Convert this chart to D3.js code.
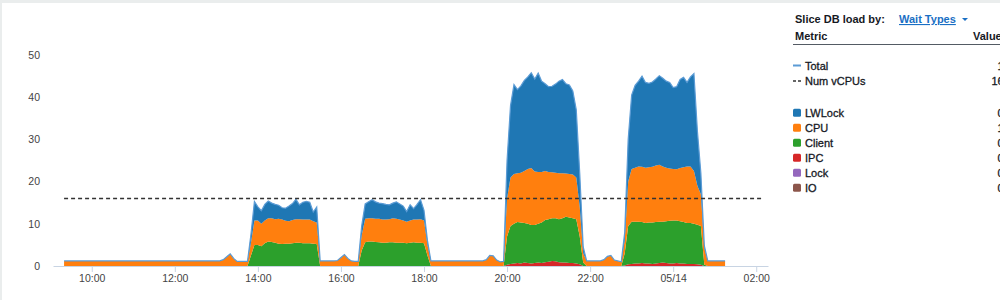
<!DOCTYPE html>
<html>
<head>
<meta charset="utf-8">
<script src="https://cdn.jsdelivr.net/npm/d3@7"></script>
<style>
  body { margin: 0; background: #fff; }
  svg { display: block; font-family: "Liberation Sans", Arial, sans-serif; }
  .item-text { stroke: #16191f; stroke-width: 0.3px; }
</style>
</head>
<body>
<div id="chart-area"></div>
<script>
// SAMPLING (one point every 5 minutes, 13 May 09:20 -> 14 May 01:15)
const seriesStart = new Date(2020, 4, 13, 9, 20)
const stepMinutes = 5

// DB LOAD BY WAIT TYPE (average active sessions), one row per hour
const lwlock = [
  0, 0, 0, 0, 0, 0, 0, 0,
  0, 0, 0, 0, 0, 0, 0, 0, 0, 0, 0, 0,
  0, 0, 0, 0, 0, 0, 0, 0, 0, 0, 0, 0,
  0, 0, 0, 0, 0, 0, 0, 0, 0, 0, 0, 0,
  0, 0, 0, 0, 0, 0, 0, 0, 0, 0, 2.0, 4.5,
  3.2, 3.1, 3.8, 4.1, 3.6, 3.5, 3.2, 2.8, 3.0, 3.6, 3.9, 4.7,
  3.4, 4.1, 4.3, 4.1, 2.2, 3.7, 0, 0, 0, 0, 0, 0,
  0, 0, 0, 0, 0, 0, 2.2, 3.5, 3.9, 4.4, 4.0, 3.7,
  3.8, 3.6, 3.4, 3.6, 4.0, 3.7, 3.4, 2.4, 3.7, 2.6, 3.6, 4.6,
  2.4, 1.0, 0, 0, 0, 0, 0, 0, 0, 0, 0, 0,
  0, 0, 0, 0, 0, 0, 0, 0, 0, 0, 0, 0,
  9.0, 17.0, 21.2, 19.8, 20.6, 21.5, 21.8, 22.6, 21.9, 23.4, 21.5, 20.7,
  20.2, 20.4, 21.0, 21.8, 22.2, 21.3, 21.1, 19.8, 16.0, 8.0, 1.5, 0,
  0, 0, 0, 0, 0, 0, 0, 0, 0, 0, 2.0, 10.0,
  17.5, 19.5, 20.2, 21.5, 20.2, 19.9, 20.1, 20.5, 21.1, 20.9, 20.5, 20.4,
  19.3, 19.6, 21.0, 21.3, 19.9, 21.2, 23.1, 13.0, 5.0, 0.6, 0, 0,
  0, 0, 0, 0
]

const cpu = [
  1.2, 1.2, 1.2, 1.2, 1.2, 1.2, 1.2, 1.2,
  1.2, 1.2, 1.2, 1.2, 1.2, 1.2, 1.2, 1.2, 1.2, 1.2, 1.2, 1.2,
  1.2, 1.2, 1.2, 1.2, 1.2, 1.2, 1.2, 1.2, 1.2, 1.2, 1.2, 1.2,
  1.2, 1.2, 1.2, 1.2, 1.2, 1.2, 1.2, 1.2, 1.2, 1.2, 1.2, 1.2,
  1.2, 1.2, 1.5, 2.2, 2.9, 1.8, 1.1, 1.1, 1.1, 1.1, 3.0, 5.8,
  5.8, 5.3, 5.4, 5.5, 5.6, 5.6, 5.9, 5.8, 5.4, 5.3, 5.5, 5.6,
  5.6, 5.6, 5.6, 5.6, 5.3, 5.1, 1.2, 1.2, 1.2, 1.2, 1.2, 1.3,
  2.0, 2.7, 1.8, 1.2, 1.1, 1.1, 3.6, 5.6, 5.5, 5.5, 5.5, 5.6,
  5.5, 5.5, 5.5, 5.7, 5.7, 5.5, 5.3, 5.1, 5.3, 5.4, 5.5, 5.6,
  5.4, 2.5, 1.2, 1.2, 1.2, 1.2, 1.2, 1.2, 1.2, 1.2, 1.2, 1.2,
  1.2, 1.2, 1.2, 1.2, 1.2, 1.2, 1.5, 2.5, 2.4, 1.4, 1.0, 1.1,
  9.0, 11.5, 11.8, 11.6, 11.8, 12.3, 13.0, 13.5, 12.7, 12.3, 12.0, 11.6,
  11.2, 10.9, 10.8, 10.9, 10.7, 10.2, 10.3, 10.4, 9.9, 7.0, 2.2, 1.2,
  1.2, 1.2, 1.2, 1.2, 1.5, 2.3, 2.5, 1.4, 1.2, 1.0, 3.0, 10.5,
  12.5, 12.8, 13.1, 13.1, 13.1, 13.1, 13.2, 13.4, 13.5, 13.1, 12.7, 12.4,
  12.2, 12.1, 12.6, 13.0, 13.4, 13.4, 12.5, 9.2, 7.5, 3.9, 1.2, 1.2,
  1.2, 1.2, 1.2, 1.2
]

const client = [
  0, 0, 0, 0, 0, 0, 0, 0,
  0, 0, 0, 0, 0, 0, 0, 0, 0, 0, 0, 0,
  0, 0, 0, 0, 0, 0, 0, 0, 0, 0, 0, 0,
  0, 0, 0, 0, 0, 0, 0, 0, 0, 0, 0, 0,
  0, 0, 0, 0, 0, 0, 0, 0, 0, 0, 2.5, 5.0,
  5.0, 4.7, 5.4, 5.8, 5.7, 5.5, 5.3, 5.2, 5.3, 5.3, 5.4, 5.5,
  5.5, 5.4, 5.4, 5.4, 5.3, 5.2, 0, 0, 0, 0, 0, 0,
  0, 0, 0, 0, 0, 0, 3.7, 5.6, 5.8, 5.8, 5.7, 5.6,
  5.5, 5.5, 5.6, 5.6, 5.5, 5.5, 5.5, 5.4, 5.5, 5.6, 5.5, 5.5,
  5.4, 2.5, 0, 0, 0, 0, 0, 0, 0, 0, 0, 0,
  0, 0, 0, 0, 0, 0, 0, 0, 0, 0, 0, 0,
  6.7, 9.0, 9.4, 9.7, 9.7, 9.4, 9.3, 9.1, 9.0, 9.2, 9.6, 10.0,
  10.1, 10.1, 10.2, 10.2, 10.5, 10.9, 10.8, 10.6, 10.5, 6.6, 0.8, 0,
  0, 0, 0, 0, 0, 0, 0, 0, 0, 0, 2.9, 9.1,
  10.0, 9.9, 9.9, 9.7, 9.6, 9.7, 9.8, 9.8, 9.8, 9.7, 9.9, 10.1,
  10.2, 10.1, 10.0, 9.8, 9.7, 9.7, 9.5, 9.4, 9.2, 0.3, 0, 0,
  0, 0, 0, 0
]

const ipc = [
  0, 0, 0, 0, 0, 0, 0, 0,
  0, 0, 0, 0, 0, 0, 0, 0, 0, 0, 0, 0,
  0, 0, 0, 0, 0, 0, 0, 0, 0, 0, 0, 0,
  0, 0, 0, 0, 0, 0, 0, 0, 0, 0, 0, 0,
  0, 0, 0, 0, 0, 0, 0, 0, 0, 0, 0, 0,
  0, 0, 0, 0, 0, 0, 0, 0, 0, 0, 0, 0,
  0, 0, 0, 0, 0, 0, 0, 0, 0, 0, 0, 0,
  0, 0, 0, 0, 0, 0, 0, 0, 0, 0, 0, 0,
  0, 0, 0, 0, 0, 0, 0, 0, 0, 0, 0, 0,
  0, 0, 0, 0, 0, 0, 0, 0, 0, 0, 0, 0,
  0, 0, 0, 0, 0, 0, 0, 0, 0, 0, 0, 0,
  0.3, 0.5, 0.6, 0.7, 0.6, 0.8, 0.7, 0.6, 0.7, 0.8, 0.7, 0.9,
  1.0, 1.2, 1.1, 0.9, 0.8, 0.8, 0.7, 0.7, 0.6, 0.4, 0, 0,
  0, 0, 0, 0, 0, 0, 0, 0, 0, 0, 0.1, 0.4,
  0.5, 0.6, 0.6, 0.7, 0.6, 0.6, 0.5, 0.6, 0.7, 0.8, 0.7, 0.6,
  0.6, 0.7, 0.6, 0.6, 0.5, 0.5, 0.5, 0.4, 0.3, 0, 0, 0,
  0, 0, 0, 0
]

// NUM VCPUS REFERENCE LINE
const numVcpus = 16
const vcpuSpan = [new Date(2020, 4, 13, 9, 20), new Date(2020, 4, 14, 2, 8)]

// AXIS / LEGEND LABELS
const yTicks = [0, 10, 20, 30, 40, 50]
const stackKeys = ['IPC', 'Client', 'CPU', 'LWLock']
const legendKeys = ['LWLock', 'CPU', 'Client', 'IPC', 'Lock', 'IO']
const legendValues = ['0.00', '1.20', '0.00', '0.00', '0.00', '0.00']
const lineKeys = ['Total', 'Num vCPUs']
const lineValues = ['1.20', '16.00']

// COLORS
const color = d3.scaleOrdinal()
                .domain(['LWLock', 'CPU', 'Client', 'IPC', 'Lock', 'IO'])
                .range(d3.schemeCategory10)
const totalColor = '#5b9bd5'

// SIZE
const width = 1000
const height = 300
const plot = { left: 53, right: 768, top: 55, bottom: 266 }

const svg = d3.select('#chart-area')
              .append('svg')
              .attr('width', width)
              .attr('height', height)

// FRAME
svg.append('rect').attr('x', 0).attr('y', 0).attr('width', width).attr('height', 3).attr('fill', '#eaeded')
svg.append('rect').attr('x', 0).attr('y', 0).attr('width', 2).attr('height', height).attr('fill', '#eaeded')

// BUILD ROWS
const data = lwlock.map((v, i) => ({
    time: d3.timeMinute.offset(seriesStart, i * stepMinutes),
    LWLock: v,
    CPU: cpu[i],
    Client: client[i],
    IPC: ipc[i]
}))

// SCALES
const x = d3.scaleTime()
            .domain([new Date(2020, 4, 13, 9, 4), new Date(2020, 4, 14, 2, 17)])
            .range([plot.left, plot.right])

const y = d3.scaleLinear()
            .domain([0, 50])
            .range([plot.bottom, plot.top])

// STACKED AREAS
const stacked = d3.stack().keys(stackKeys)(data)

const area = d3.area()
               .x(d => x(d.data.time))
               .y0(d => y(d[0]))
               .y1(d => y(d[1]))

svg.append('g')
   .selectAll('path')
   .data(stacked)
   .enter()
   .append('path')
   .attr('d', area)
   .attr('fill', d => color(d.key))

// TOTAL LINE
const totalLine = d3.line()
                    .x(d => x(d.time))
                    .y(d => y(d3.sum(stackKeys, k => d[k])))

svg.append('path')
   .datum(data)
   .attr('d', totalLine)
   .attr('fill', 'none')
   .attr('stroke', totalColor)
   .attr('stroke-width', 1.2)

// NUM VCPUS DASHED LINE
svg.append('path')
   .datum(vcpuSpan)
   .attr('d', d3.line().x(d => x(d)).y(() => y(numVcpus)))
   .attr('fill', 'none')
   .attr('stroke', '#333')
   .attr('stroke-width', 1.5)
   .attr('stroke-dasharray', '4,3')

// X AXIS
const xAxisCall = d3.axisBottom(x)
                    .ticks(d3.timeHour.every(2))
                    .tickSize(6)
                    .tickSizeOuter(0)
                    .tickFormat(d => d.getHours() === 0 ? d3.timeFormat('%m/%d')(d) : d3.timeFormat('%H:%M')(d))

const xAxisGroup = svg.append('g')
                      .attr('class', 'x-axis')
                      .attr('transform', 'translate(0,' + plot.bottom + ')')
                      .call(xAxisCall)

xAxisGroup.select('.domain').attr('stroke', '#c8d4e3')
xAxisGroup.selectAll('.tick line').attr('stroke', '#c8d4e3')
xAxisGroup.selectAll('.tick text')
          .attr('fill', '#444')
          .attr('font-size', '10.5px')
          .attr('font-family', '"Liberation Sans", Arial, sans-serif')

// Y AXIS
const yAxisGroup = svg.append('g')
                      .attr('class', 'y-axis')
                      .attr('transform', 'translate(43,0)')
                      .call(d3.axisLeft(y).tickValues(yTicks).tickSize(0).tickPadding(3))

yAxisGroup.select('.domain').remove()
yAxisGroup.selectAll('.tick text')
          .attr('fill', '#444')
          .attr('font-size', '10.5px')
          .attr('font-family', '"Liberation Sans", Arial, sans-serif')

// LEGEND PANEL
const legend = svg.append('g').attr('class', 'legend')

legend.append('text')
      .attr('x', 795).attr('y', 23)
      .attr('font-size', '11px').attr('font-weight', 'bold').attr('fill', '#16191f')
      .text('Slice DB load by:')

legend.append('text')
      .attr('x', 899).attr('y', 23)
      .attr('font-size', '11px').attr('font-weight', 'bold').attr('fill', '#1a6fc4')
      .attr('text-decoration', 'underline')
      .text('Wait Types')

legend.append('path')
      .attr('d', 'M962,18 L968,18 L965,21 Z')
      .attr('fill', '#1a6fc4')

legend.append('text')
      .attr('x', 795).attr('y', 40)
      .attr('font-size', '11px').attr('font-weight', 'bold').attr('fill', '#16191f')
      .text('Metric')

legend.append('text')
      .attr('x', 973).attr('y', 40)
      .attr('font-size', '11px').attr('font-weight', 'bold').attr('fill', '#16191f')
      .text('Value')

legend.append('line')
      .attr('x1', 793).attr('x2', 1000).attr('y1', 44.5).attr('y2', 44.5)
      .attr('stroke', '#545b64').attr('stroke-width', 1)

// LINE ENTRIES
const lineRows = legend.selectAll('.line-row')
                       .data(lineKeys)
                       .enter()
                       .append('g')
                       .attr('class', 'line-row')
                       .attr('transform', (d, i) => 'translate(0,' + (65.5 + i * 15.5) + ')')

lineRows.append('line')
        .attr('x1', 793).attr('x2', 801).attr('y1', 0).attr('y2', 0)
        .attr('stroke', (d, i) => i === 0 ? totalColor : '#333')
        .attr('stroke-width', (d, i) => i === 0 ? 2 : 1.5)
        .attr('stroke-dasharray', (d, i) => i === 0 ? null : '3,2')

lineRows.append('text')
        .attr('class', 'item-text')
        .attr('x', 805).attr('y', 4)
        .attr('font-size', '11px').attr('fill', '#16191f')
        .text(d => d)

lineRows.append('text')
        .attr('class', 'item-text')
        .attr('x', 1019).attr('y', 4)
        .attr('text-anchor', 'end')
        .attr('font-size', '11px').attr('fill', '#16191f')
        .text((d, i) => lineValues[i])

// WAIT TYPE ENTRIES
const keyRows = legend.selectAll('.key-row')
                      .data(legendKeys)
                      .enter()
                      .append('g')
                      .attr('class', 'key-row')
                      .attr('transform', (d, i) => 'translate(0,' + (112.7 + i * 15) + ')')

keyRows.append('rect')
       .attr('x', 793).attr('y', -4).attr('width', 8).attr('height', 8)
       .attr('rx', 1.5)
       .attr('fill', d => color(d))

keyRows.append('text')
       .attr('class', 'item-text')
       .attr('x', 805).attr('y', 4)
       .attr('font-size', '11px').attr('fill', '#16191f')
       .text(d => d)

keyRows.append('text')
       .attr('class', 'item-text')
       .attr('x', 1019).attr('y', 4)
       .attr('text-anchor', 'end')
       .attr('font-size', '11px').attr('fill', '#16191f')
       .text((d, i) => legendValues[i])
</script>
</body>
</html>
